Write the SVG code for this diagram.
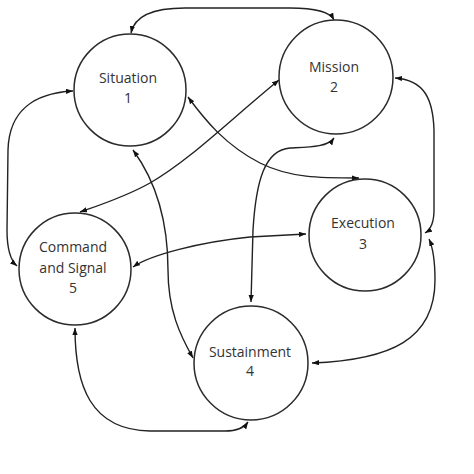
<svg xmlns="http://www.w3.org/2000/svg" width="474" height="474" viewBox="0 0 474 474">
<style>
.node circle{fill:#fff;stroke:#2b2b2b;stroke-width:1.5}
.node text{font-family:"Open Sans","Liberation Sans",sans-serif;font-size:14px;fill:#333;text-anchor:middle}
.edges path{fill:none;stroke:#222;stroke-width:1.4;marker-start:url(#ah);marker-end:url(#ah)}
</style>
<defs>
<marker id="ah" viewBox="0 0 8 6" refX="8" refY="3" markerWidth="7" markerHeight="5.5" markerUnits="userSpaceOnUse" orient="auto-start-reverse">
<path d="M0,0 L8,3 L0,6 Z" fill="#111"/>
</marker>
</defs>
<rect width="474" height="474" fill="#fff"/>
<g class="edges">
<path d="M131,33 C134,18 150,8 185,8 L290,8 C315,8 330,12 334,20"/>
<path d="M73,91 C35,93 9,110 8,150 L7,230 C7,248 10,260 17,266"/>
<path d="M279,80 C230,120 190,160 150,183 C125,197 100,205 80,212"/>
<path d="M188,97 C205,120 225,145 260,163 C290,178 320,178 359,178"/>
<path d="M133,150 C155,180 168,220 168,270 C168,310 180,335 193,358"/>
<path d="M334,138 C328,147 310,147 290,148 C265,150 256,180 253,230 L251,302"/>
<path d="M133,267 C150,255 200,242 250,237 L306,234"/>
<path d="M395,78 C425,80 433,100 434,130 L434,210 C434,222 430,230 425,233"/>
<path d="M429,239 C433,248 435,262 435,280 C435,340 390,360 312,363"/>
<path d="M75,328 C75,385 90,430 150,431 L225,431 C238,431 244,428 248,422"/>
</g>
<g id="situation" class="node"><circle cx="130" cy="90" r="56"/><text x="128" y="83">Situation</text><text x="128" y="103">1</text></g>
<g id="mission" class="node"><circle cx="336" cy="77" r="57"/><text x="334" y="72">Mission</text><text x="334" y="92">2</text></g>
<g id="execution" class="node"><circle cx="365" cy="235" r="56"/><text x="363" y="228">Execution</text><text x="363" y="249">3</text></g>
<g id="sustainment" class="node"><circle cx="251" cy="363" r="57"/><text x="250" y="357">Sustainment</text><text x="250" y="376">4</text></g>
<g id="command" class="node"><circle cx="75" cy="269" r="56"/><text x="73" y="252">Command</text><text x="73" y="273">and Signal</text><text x="73" y="293">5</text></g>
</svg>
